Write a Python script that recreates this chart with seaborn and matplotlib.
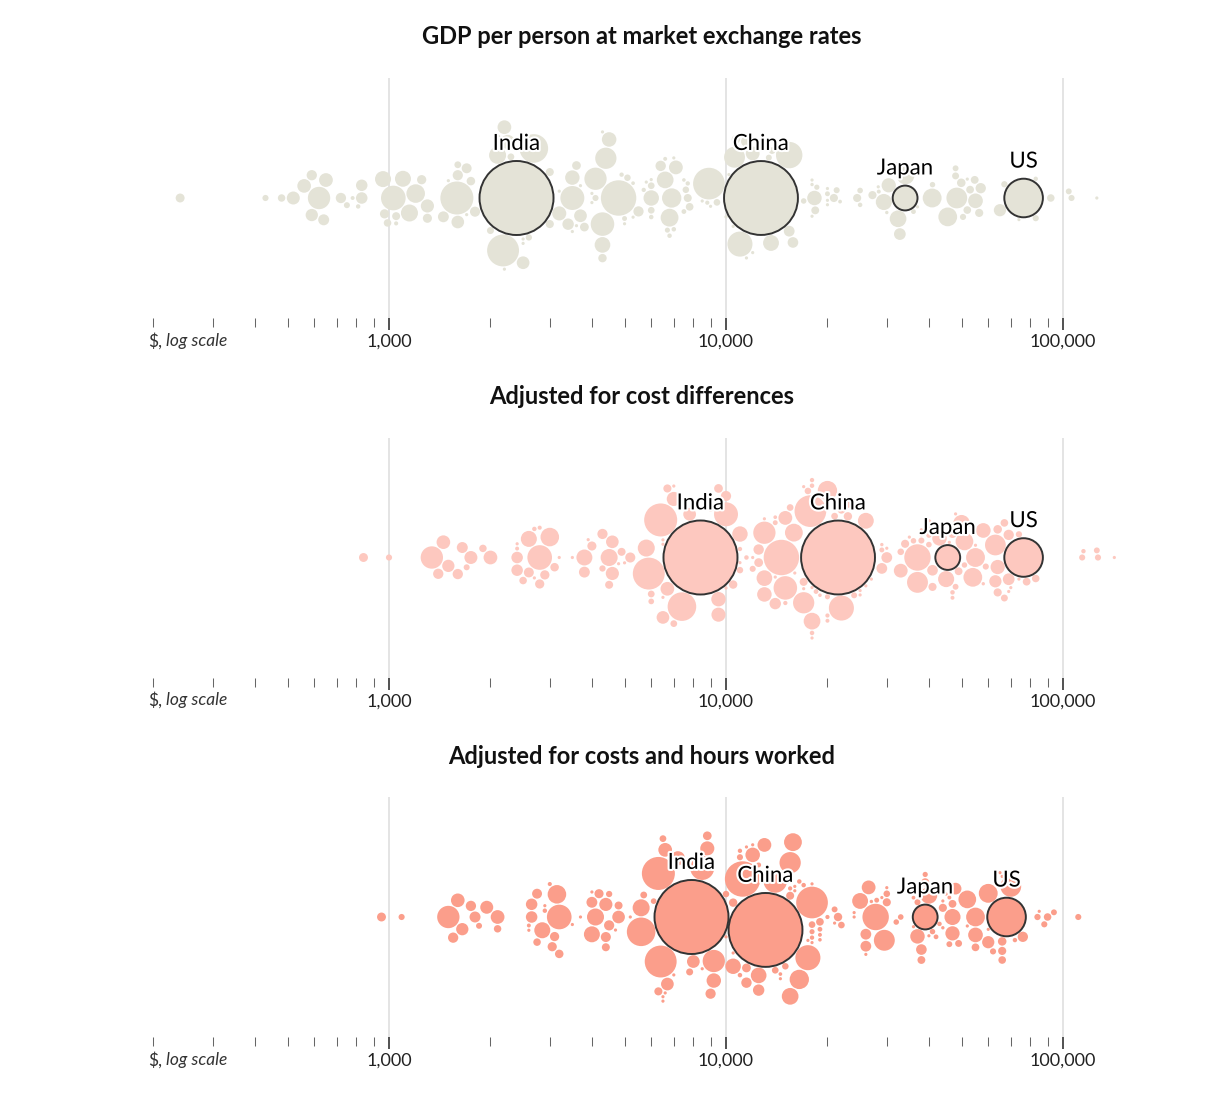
import numpy as np
import pandas as pd
import matplotlib
matplotlib.use("Agg")
import matplotlib.pyplot as plt
import matplotlib.patheffects as pe
from matplotlib.ticker import NullFormatter
import seaborn as sns

# Countries, population (millions) and GDP per person in three measures (2022, $)
countries = [
    "Burundi", "Central African Rep.", "Sierra Leone", "Madagascar", "Mozambique", "Niger", "Somalia", "DR Congo", "Malawi", "Yemen",
    "Chad", "Liberia", "Guinea-Bissau", "Gambia", "Mali", "Burkina Faso", "Uganda", "Rwanda", "Togo", "Ethiopia",
    "Tajikistan", "Lesotho", "Sudan", "Myanmar", "Tanzania", "Guinea", "Nepal", "Benin", "Zambia", "Comoros",
    "Kyrgyzstan", "Senegal", "Cameroon", "Pakistan", "Zimbabwe", "Kiribati", "Haiti", "Cambodia", "Laos", "Kenya",
    "Mauritania", "Nigeria", "Ghana", "Solomon Islands", "Uzbekistan", "Nicaragua", "India", "Ivory Coast", "Timor-Leste", "São Tomé",
    "Congo", "Bangladesh", "Papua New Guinea", "Honduras", "Vanuatu", "Angola", "Sri Lanka", "Philippines", "Morocco", "Bhutan",
    "Djibouti", "Bolivia", "Venezuela", "Micronesia", "Tunisia", "Samoa", "Eswatini", "Lebanon", "Vietnam", "Egypt",
    "Algeria", "Jordan", "Cape Verde", "Iran", "Ukraine", "Indonesia", "Namibia", "Mongolia", "Tonga", "El Salvador",
    "Fiji", "Kosovo", "Guatemala", "Moldova", "Suriname", "Iraq", "Paraguay", "Jamaica", "Libya", "Marshall Islands",
    "Ecuador", "Colombia", "North Macedonia", "Georgia", "South Africa", "Albania", "Thailand", "Belize", "Armenia", "Peru",
    "Equatorial Guinea", "Bosnia", "Turkmenistan", "Azerbaijan", "Botswana", "Belarus", "Dominica", "Gabon", "Brazil", "St Vincent",
    "Serbia", "Montenegro", "Mauritius", "Grenada", "Turkey", "Dominican Rep.", "Mexico", "Kazakhstan", "Maldives", "Malaysia",
    "St Lucia", "China", "Costa Rica", "Argentina", "Bulgaria", "Russia", "Chile", "Romania", "Panama", "Guyana",
    "Trinidad and Tobago", "Antigua", "Poland", "Hungary", "Croatia", "Uruguay", "Barbados", "Seychelles", "St Kitts", "Greece",
    "Slovakia", "Latvia", "Portugal", "Lithuania", "Oman", "Czech Republic", "Estonia", "Slovenia", "Spain", "Bahrain",
    "Saudi Arabia", "South Korea", "Taiwan", "Malta", "Bahamas", "Cyprus", "Japan", "Italy", "Puerto Rico", "Brunei",
    "France", "Kuwait", "New Zealand", "Britain", "Hong Kong", "Germany", "Belgium", "Finland", "Austria", "San Marino",
    "UAE", "Israel", "Canada", "Sweden", "Netherlands", "Australia", "Denmark", "Iceland", "US", "Qatar",
    "Singapore", "Switzerland", "Ireland", "Norway", "Luxembourg",
]

population = [
    12.9, 5.6, 8.6, 29.6, 33.0, 26.2, 17.6, 99.0, 20.4, 33.7,
    17.7, 5.3, 2.1, 2.7, 22.6, 22.7, 47.2, 13.8, 8.8, 123.0,
    10.0, 2.3, 46.9, 54.0, 65.5, 13.9, 30.5, 13.4, 20.0, 0.84,
    7.0, 17.3, 27.9, 235.8, 16.3, 0.13, 11.6, 16.8, 7.5, 54.0,
    4.7, 218.5, 33.5, 0.72, 35.6, 6.9, 1417.0, 28.2, 1.3, 0.23,
    5.9, 171.2, 10.1, 10.4, 0.33, 35.6, 22.2, 115.6, 37.5, 0.78,
    1.1, 12.2, 28.3, 0.11, 12.4, 0.22, 1.2, 5.5, 98.2, 111.0,
    44.9, 11.3, 0.6, 88.6, 38.0, 275.5, 2.6, 3.4, 0.1, 6.3,
    0.93, 1.8, 17.4, 2.5, 0.6, 43.5, 6.8, 2.8, 6.8, 0.04,
    18.0, 51.9, 2.1, 3.7, 59.9, 2.8, 71.7, 0.4, 2.8, 34.0,
    1.7, 3.2, 6.4, 10.1, 2.6, 9.2, 0.07, 2.4, 215.3, 0.1,
    6.7, 0.62, 1.3, 0.13, 85.3, 11.2, 127.5, 19.6, 0.52, 33.9,
    0.18, 1412.0, 5.2, 46.2, 6.5, 143.6, 19.6, 19.0, 4.4, 0.8,
    1.5, 0.1, 37.7, 9.7, 3.9, 3.4, 0.28, 0.1, 0.05, 10.4,
    5.4, 1.9, 10.4, 2.8, 4.6, 10.5, 1.3, 2.1, 47.6, 1.5,
    36.4, 51.6, 23.6, 0.53, 0.4, 0.9, 125.1, 59.0, 3.2, 0.45,
    68.0, 4.3, 5.1, 67.0, 7.3, 84.0, 11.7, 5.6, 9.1, 0.034,
    9.4, 9.6, 39.0, 10.5, 17.7, 26.0, 5.9, 0.38, 333.3, 2.7,
    5.6, 8.8, 5.1, 5.5, 0.65,
]

gdp_market = [
    240, 430, 480, 520, 560, 590, 590, 620, 640, 650,
    720, 750, 780, 810, 830, 830, 960, 970, 990, 1030,
    1050, 1050, 1100, 1150, 1200, 1250, 1300, 1300, 1450, 1500,
    1600, 1600, 1600, 1590, 1700, 1700, 1750, 1800, 2000, 2100,
    2100, 2180, 2200, 2200, 2250, 2300, 2390, 2500, 2500, 2500,
    2600, 2690, 3000, 3000, 3200, 3200, 3400, 3500, 3500, 3500,
    3600, 3600, 3700, 3700, 3800, 4000, 4000, 4100, 4100, 4300,
    4300, 4300, 4300, 4400, 4500, 4800, 4900, 5000, 5000, 5100,
    5300, 5300, 5500, 5700, 5800, 6000, 6000, 6000, 6000, 6000,
    6400, 6600, 6600, 6700, 6800, 6800, 6900, 7000, 7000, 7100,
    7500, 7500, 7600, 7700, 7700, 7800, 8500, 8800, 8900, 9000,
    9400, 10000, 10200, 10500, 10600, 10700, 11000, 11500, 11500, 12000,
    12000, 12700, 13400, 13600, 13700, 15400, 15400, 15800, 17000, 18000,
    18000, 18000, 18300, 18400, 18600, 20000, 20000, 20000, 20000, 20900,
    21300, 21800, 24500, 25000, 25000, 27200, 28300, 28400, 29400, 30000,
    30400, 32400, 32800, 33000, 32000, 32000, 34000, 34100, 36000, 37000,
    40900, 41000, 48000, 45500, 48000, 48400, 49900, 50500, 52000, 52000,
    53000, 54700, 55000, 56400, 57000, 65000, 67000, 74000, 76400, 83000,
    83000, 92000, 104000, 106000, 126000,
]

gdp_ppp = [
    840, 1000, 1900, 1750, 1450, 1500, 1400, 1340, 1650, 2000,
    1600, 1700, 2400, 2700, 2400, 2400, 2600, 2800, 2500, 2800,
    4900, 2800, 3800, 4500, 3000, 2900, 4600, 4000, 3800, 3500,
    6000, 4300, 4600, 6400, 2600, 2400, 3100, 5200, 9000, 5800,
    6000, 5900, 6700, 2700, 9500, 7000, 8400, 6500, 4800, 5000,
    4300, 7400, 4500, 6700, 3200, 7000, 14000, 10000, 9500, 13000,
    6500, 9500, 7800, 3900, 12500, 6500, 10000, 12000, 13000, 15000,
    13000, 10500, 8000, 17000, 13000, 14600, 11000, 14000, 7000, 11000,
    12000, 14000, 10000, 15000, 17000, 11000, 15500, 11500, 21000, 6500,
    12500, 18000, 20000, 20000, 15900, 18000, 20000, 11000, 18000, 15000,
    19000, 18500, 17500, 17000, 18000, 22000, 14000, 20000, 17800, 16000,
    23000, 25000, 26000, 18000, 37000, 23000, 22000, 30000, 25000, 33000,
    18000, 21500, 24000, 26000, 33000, 37000, 29000, 41000, 36000, 43000,
    29000, 27000, 43000, 41000, 40000, 29000, 17000, 35000, 30000, 34000,
    38000, 38000, 41000, 47000, 40000, 47000, 46000, 47000, 45000, 58000,
    64000, 50000, 69000, 55000, 38000, 48000, 45500, 51000, 40000, 74000,
    55000, 51000, 48000, 54000, 67000, 63000, 64000, 59000, 67000, 70000,
    78000, 49000, 58000, 64000, 69000, 63000, 74000, 69000, 76400, 115000,
    127000, 83000, 126000, 114000, 142000,
]

gdp_hours = [
    950, 1090, 2100, 1950, 1600, 1650, 1550, 1500, 1800, 2100,
    1750, 1850, 2600, 2900, 2650, 2650, 2850, 3050, 2750, 3200,
    4800, 3000, 4000, 4100, 3150, 3100, 4400, 4200, 4000, 3700,
    5700, 4500, 4800, 6300, 2750, 2600, 3200, 4400, 7800, 5600,
    6100, 6400, 6600, 2900, 8800, 6500, 7900, 6700, 4700, 5200,
    4500, 5600, 4400, 6300, 3500, 7200, 12500, 8500, 9200, 12000,
    6600, 8800, 8000, 4000, 11500, 6500, 10000, 11000, 9200, 14000,
    12500, 10500, 8500, 15500, 12000, 11200, 11000, 12500, 7000, 10000,
    11500, 14500, 9000, 15500, 16000, 10500, 14000, 11000, 18000, 6500,
    11500, 15500, 19000, 18000, 15800, 17000, 16500, 10500, 16500, 13000,
    19000, 19000, 15000, 15500, 18000, 19000, 14500, 20000, 18000, 16000,
    22000, 24000, 24000, 18000, 29500, 21500, 17500, 26000, 21000, 26500,
    18000, 13100, 21000, 25000, 30000, 27800, 26000, 38000, 32000, 40000,
    27000, 26000, 37000, 38000, 39000, 28000, 17500, 30000, 29000, 30000,
    37000, 36000, 39000, 43000, 33000, 44000, 44000, 46000, 47000, 44000,
    47000, 40000, 48000, 52000, 36000, 45000, 39000, 52000, 42000, 60000,
    60000, 41000, 46000, 55000, 49000, 70000, 66000, 62000, 66000, 66000,
    55000, 47000, 55000, 66000, 76000, 60000, 84000, 65000, 68000, 72000,
    88000, 90000, 94000, 111000, 85000,
]

titles = [
    "GDP per person at market exchange rates",
    "Adjusted for cost differences",
    "Adjusted for costs and hours worked",
]
colours = ["#E4E3D7", "#FDC8BF", "#FB9E8B"]
labelled = ["India", "China", "Japan", "US"]
major_ticks = [1_000, 10_000, 100_000]
major_labels = ["1,000", "10,000", "100,000"]
minor_ticks = [m * 10 ** e for e in (2, 3, 4) for m in range(2, 10)]

assert len(countries) == len(population) == len(gdp_market) == len(gdp_ppp) == len(gdp_hours)

# Figure geometry (pixels)
W, H, DPI = 1212, 1094, 100
PX_DECADE = 337          # pixels per power of ten
X_LEFT, X_RIGHT = 100, 1140
PX_1000 = 389            # where 1,000 sits
AX_H = 240
AX_TOPS = [78, 437.5, 797]
PT = 72 / DPI            # points per pixel

xlim = (10 ** (3 - (PX_1000 - X_LEFT) / PX_DECADE), 10 ** (3 + (X_RIGHT - PX_1000) / PX_DECADE))

# bubble radius in pixels, grows with population
pop = np.array(population)
radius = np.maximum(37.0 * (pop / 1417.0) ** 0.45, 1.6)


def swarm(xpx, rad, pad=1.2):
    # greedy packing: biggest bubbles first, each as close to the middle as it fits
    n = len(xpx)
    ys = np.zeros(n)
    done = np.zeros(n, bool)
    for k, i in enumerate(np.argsort(-rad, kind="stable")):
        idx = np.where(done)[0]
        dx = xpx[i] - xpx[idx]
        dist = rad[i] + rad[idx] + pad
        near = np.abs(dx) < dist
        dxn, dn, yn = dx[near], dist[near], ys[idx][near]
        h = np.sqrt(dn ** 2 - dxn ** 2)
        cand = np.concatenate([[0.0], yn + h, yn - h])
        sign = 1 if k % 2 else -1
        cand = cand[np.lexsort((sign * cand, np.abs(cand)))]
        for y in cand:
            if np.all(dxn ** 2 + (y - yn) ** 2 >= dn ** 2 - 1e-6):
                ys[i] = y
                break
        done[i] = True
    return ys


sns.set_style("white")
plt.rcParams["font.family"] = ["Lato", "DejaVu Sans"]

fig = plt.figure(figsize=(W / DPI, H / DPI), dpi=DPI)

area_max = float((radius ** 2).max())
s_max = area_max * (2 * PT) ** 2

for k, (series, title, col) in enumerate(zip([gdp_market, gdp_ppp, gdp_hours], titles, colours)):
    top = AX_TOPS[k]
    ax = fig.add_axes([X_LEFT / W, 1 - (top + AX_H) / H, (X_RIGHT - X_LEFT) / W, AX_H / H])
    ax.set_xscale("log")
    ax.set_xlim(*xlim)
    ax.set_ylim(-AX_H / 2, AX_H / 2)

    vals = np.array(series, dtype=float)
    xpx = PX_DECADE * np.log10(vals)
    ys = swarm(xpx, radius)
    df = pd.DataFrame({"country": countries, "value": vals, "y": ys,
                       "r": radius, "area": radius ** 2})

    ax.grid(axis="x", which="major", color="#dcdcdc", lw=1.1)
    ax.set_axisbelow(True)

    sns.scatterplot(data=df, x="value", y="y", size="area", sizes=(0, s_max),
                    size_norm=(0, area_max), color=col, linewidth=0,
                    legend=False, ax=ax, zorder=3, clip_on=False)
    lab = df[df["country"].isin(labelled)]
    sns.scatterplot(data=lab, x="value", y="y", size="area", sizes=(0, s_max),
                    size_norm=(0, area_max), color=col, edgecolor="#333333",
                    linewidth=1.4, legend=False, ax=ax, zorder=4, clip_on=False)
    for _, row in lab.iterrows():
        ax.annotate(row["country"], xy=(row["value"], row["y"] + row["r"]),
                    xytext=(0, 8), textcoords="offset points", ha="center",
                    va="baseline", fontsize=16, color="black", zorder=5,
                    annotation_clip=False,
                    path_effects=[pe.withStroke(linewidth=3, foreground="white")])

    ax.set_xticks(major_ticks)
    ax.set_xticklabels(major_labels)
    ax.set_xticks(minor_ticks, minor=True)
    ax.xaxis.set_minor_formatter(NullFormatter())
    ax.tick_params(axis="x", which="both", bottom=True, direction="out")
    ax.tick_params(axis="x", which="major", length=12 * PT, width=1.1, color="#222222",
                   labelsize=13, labelcolor="#222222", pad=2.8)
    ax.tick_params(axis="x", which="minor", length=9 * PT, width=0.75, color="#666666")
    ax.set_yticks([])
    ax.set_xlabel("")
    ax.set_ylabel("")
    sns.despine(ax=ax, left=True, bottom=True)

    fig.text(642 / W, 1 - (top - 41) / H, title, ha="center", va="center",
             fontsize=17, fontweight="bold", color="#111111")
    t = fig.text(148 / W, 1 - (top + AX_H + 23) / H, "$,", ha="left", va="center",
                 fontsize=12.5, color="#333333")
    ax.annotate("log scale", xy=(1, 0.5), xycoords=t, xytext=(3, 0),
                textcoords="offset points", ha="left", va="center",
                fontsize=12.5, style="italic", color="#333333", annotation_clip=False)

fig.savefig("out.png", dpi=DPI)
